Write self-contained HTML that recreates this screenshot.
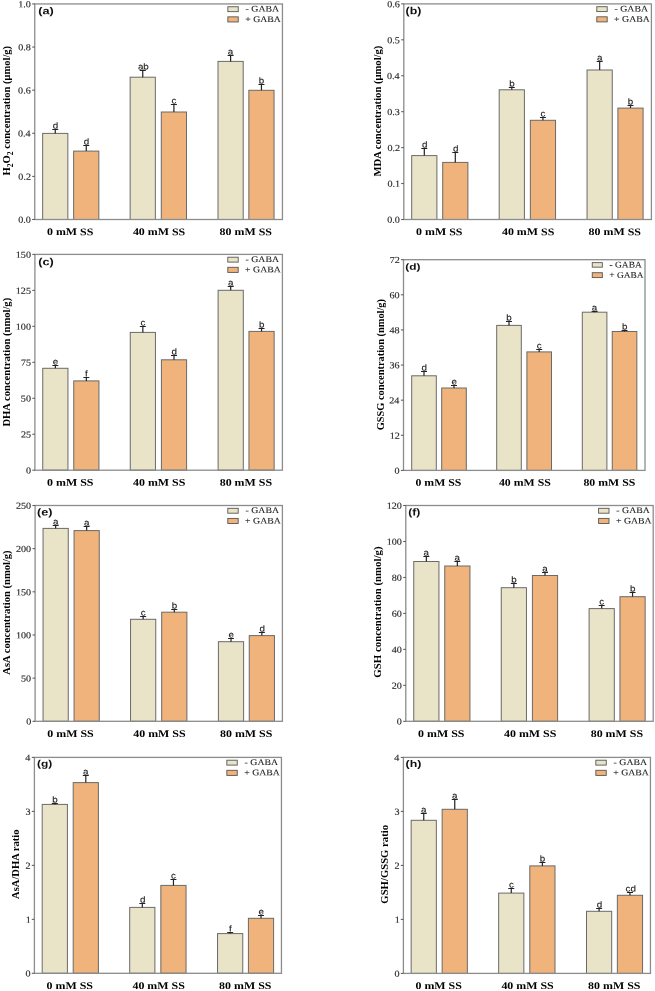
<!DOCTYPE html>
<html><head><meta charset="utf-8"><style>
html,body{margin:0;padding:0;background:#fff;}
svg{display:block;}
</style></head><body>
<svg width="655" height="991" viewBox="0 0 655 991">
<rect width="655" height="991" fill="#fff"/>
<g style="will-change:transform">
<rect x="42.65" y="133.40" width="25.20" height="86.10" fill="#e9e4c8" stroke="#6a6a6a" stroke-width="1"/>
<rect x="73.65" y="151.10" width="25.20" height="68.40" fill="#efb37b" stroke="#6a6a6a" stroke-width="1"/>
<rect x="130.15" y="77.20" width="25.20" height="142.30" fill="#e9e4c8" stroke="#6a6a6a" stroke-width="1"/>
<rect x="161.30" y="112.00" width="25.20" height="107.50" fill="#efb37b" stroke="#6a6a6a" stroke-width="1"/>
<rect x="218.00" y="61.40" width="25.20" height="158.10" fill="#e9e4c8" stroke="#6a6a6a" stroke-width="1"/>
<rect x="248.85" y="90.30" width="25.20" height="129.20" fill="#efb37b" stroke="#6a6a6a" stroke-width="1"/>
<path d="M55.25 133.40V129.50M52.25 129.50H58.25" stroke="#222" stroke-width="1.2" fill="none"/>
<path d="M86.25 151.10V145.50M83.25 145.50H89.25" stroke="#222" stroke-width="1.2" fill="none"/>
<path d="M142.75 77.20V70.50M139.75 70.50H145.75" stroke="#222" stroke-width="1.2" fill="none"/>
<path d="M173.90 112.00V104.50M170.90 104.50H176.90" stroke="#222" stroke-width="1.2" fill="none"/>
<path d="M230.60 61.40V55.50M227.60 55.50H233.60" stroke="#222" stroke-width="1.2" fill="none"/>
<path d="M261.45 90.30V84.50M258.45 84.50H264.45" stroke="#222" stroke-width="1.2" fill="none"/>
<text transform="matrix(1.1300 0.001 0 1 52.83 128.40)" font-family='"Liberation Sans", sans-serif' font-weight="normal" font-size="8.70" fill="#222" stroke="#222" stroke-width="0.12">d</text>
<text transform="matrix(1.1300 0.001 0 1 83.83 144.40)" font-family='"Liberation Sans", sans-serif' font-weight="normal" font-size="8.70" fill="#222" stroke="#222" stroke-width="0.12">d</text>
<text transform="matrix(1.1300 0.001 0 1 137.88 69.40)" font-family='"Liberation Sans", sans-serif' font-weight="normal" font-size="8.70" fill="#222" stroke="#222" stroke-width="0.12">ab</text>
<text transform="matrix(1.1300 0.001 0 1 171.56 103.40)" font-family='"Liberation Sans", sans-serif' font-weight="normal" font-size="8.70" fill="#222" stroke="#222" stroke-width="0.12">c</text>
<text transform="matrix(1.1300 0.001 0 1 227.86 54.40)" font-family='"Liberation Sans", sans-serif' font-weight="normal" font-size="8.70" fill="#222" stroke="#222" stroke-width="0.12">a</text>
<text transform="matrix(1.1300 0.001 0 1 258.81 83.40)" font-family='"Liberation Sans", sans-serif' font-weight="normal" font-size="8.70" fill="#222" stroke="#222" stroke-width="0.12">b</text>
<rect x="34.75" y="3.95" width="247.70" height="215.55" fill="none" stroke="#8c8c8c" stroke-width="1.3"/>
<path d="M32.15 219.50H34.75" stroke="#555" stroke-width="1"/>
<text transform="matrix(1.1000 0.001 0 1 18.19 222.79)" font-family='"Liberation Serif", serif' font-weight="normal" font-size="9.20" fill="#2a2a2a" stroke="#2a2a2a" stroke-width="0.15">0.0</text>
<path d="M32.15 176.39H34.75" stroke="#555" stroke-width="1"/>
<text transform="matrix(1.1000 0.001 0 1 18.36 179.68)" font-family='"Liberation Serif", serif' font-weight="normal" font-size="9.20" fill="#2a2a2a" stroke="#2a2a2a" stroke-width="0.15">0.2</text>
<path d="M32.15 133.28H34.75" stroke="#555" stroke-width="1"/>
<text transform="matrix(1.1000 0.001 0 1 17.96 136.57)" font-family='"Liberation Serif", serif' font-weight="normal" font-size="9.20" fill="#2a2a2a" stroke="#2a2a2a" stroke-width="0.15">0.4</text>
<path d="M32.15 90.17H34.75" stroke="#555" stroke-width="1"/>
<text transform="matrix(1.1000 0.001 0 1 18.10 93.46)" font-family='"Liberation Serif", serif' font-weight="normal" font-size="9.20" fill="#2a2a2a" stroke="#2a2a2a" stroke-width="0.15">0.6</text>
<path d="M32.15 47.06H34.75" stroke="#555" stroke-width="1"/>
<text transform="matrix(1.1000 0.001 0 1 18.19 50.35)" font-family='"Liberation Serif", serif' font-weight="normal" font-size="9.20" fill="#2a2a2a" stroke="#2a2a2a" stroke-width="0.15">0.8</text>
<path d="M32.15 3.95H34.75" stroke="#555" stroke-width="1"/>
<text transform="matrix(1.1000 0.001 0 1 18.19 7.24)" font-family='"Liberation Serif", serif' font-weight="normal" font-size="9.20" fill="#2a2a2a" stroke="#2a2a2a" stroke-width="0.15">1.0</text>
<text transform="matrix(1.2739 0.001 0 1.0084 38.22 14.36)" font-family='"Liberation Sans", sans-serif' font-weight="bold" font-size="10" fill="#111">(a)</text>
<rect x="227.85" y="6.75" width="10.40" height="4.90" fill="#e9e4c8" stroke="#555" stroke-width="0.9"/>
<rect x="227.85" y="16.85" width="10.40" height="5.10" fill="#efb37b" stroke="#555" stroke-width="0.9"/>
<text transform="matrix(0.9816 0.001 0 0.8484 245.59 11.52)" font-family='"Liberation Serif", serif' font-weight="normal" font-size="10" fill="#1a1a1a" stroke="#1a1a1a" stroke-width="0.12">- GABA</text>
<text transform="matrix(0.9804 0.001 0 0.8484 245.16 21.87)" font-family='"Liberation Serif", serif' font-weight="normal" font-size="10" fill="#1a1a1a" stroke="#1a1a1a" stroke-width="0.12">+ GABA</text>
<text transform="matrix(1.1700 0.001 0 1 46.97 235.10)" font-family='"Liberation Serif", serif' font-weight="bold" font-size="10.20" fill="#000">0 mM SS</text>
<text transform="matrix(1.1700 0.001 0 1 132.88 235.10)" font-family='"Liberation Serif", serif' font-weight="bold" font-size="10.20" fill="#000">40 mM SS</text>
<text transform="matrix(1.1700 0.001 0 1 219.57 235.10)" font-family='"Liberation Serif", serif' font-weight="bold" font-size="10.20" fill="#000">80 mM SS</text>
<text transform="translate(9.72 175.43) rotate(-90) scale(1.0553 1.0900)" font-family='"Liberation Serif", serif' font-weight="bold" font-size="10.00" fill="#000">H<tspan font-size="7.20" dy="2.8">2</tspan><tspan dy="-2.8">O</tspan><tspan font-size="7.20" dy="2.8">2</tspan><tspan dy="-2.8"> concentration (μmol/g)</tspan></text>
<rect x="411.70" y="155.60" width="25.20" height="63.90" fill="#e9e4c8" stroke="#6a6a6a" stroke-width="1"/>
<rect x="442.70" y="162.40" width="25.20" height="57.10" fill="#efb37b" stroke="#6a6a6a" stroke-width="1"/>
<rect x="499.20" y="89.80" width="25.20" height="129.70" fill="#e9e4c8" stroke="#6a6a6a" stroke-width="1"/>
<rect x="530.35" y="120.30" width="25.20" height="99.20" fill="#efb37b" stroke="#6a6a6a" stroke-width="1"/>
<rect x="587.05" y="70.00" width="25.20" height="149.50" fill="#e9e4c8" stroke="#6a6a6a" stroke-width="1"/>
<rect x="617.90" y="108.10" width="25.20" height="111.40" fill="#efb37b" stroke="#6a6a6a" stroke-width="1"/>
<path d="M424.30 155.60V148.50M421.30 148.50H427.30" stroke="#222" stroke-width="1.2" fill="none"/>
<path d="M455.30 162.40V152.50M452.30 152.50H458.30" stroke="#222" stroke-width="1.2" fill="none"/>
<path d="M511.80 89.80V87.50M508.80 87.50H514.80" stroke="#222" stroke-width="1.2" fill="none"/>
<path d="M542.95 120.30V117.50M539.95 117.50H545.95" stroke="#222" stroke-width="1.2" fill="none"/>
<path d="M599.65 70.00V61.50M596.65 61.50H602.65" stroke="#222" stroke-width="1.2" fill="none"/>
<path d="M630.50 108.10V105.50M627.50 105.50H633.50" stroke="#222" stroke-width="1.2" fill="none"/>
<text transform="matrix(1.1300 0.001 0 1 421.88 147.40)" font-family='"Liberation Sans", sans-serif' font-weight="normal" font-size="8.70" fill="#222" stroke="#222" stroke-width="0.12">d</text>
<text transform="matrix(1.1300 0.001 0 1 452.88 151.40)" font-family='"Liberation Sans", sans-serif' font-weight="normal" font-size="8.70" fill="#222" stroke="#222" stroke-width="0.12">d</text>
<text transform="matrix(1.1300 0.001 0 1 509.16 86.40)" font-family='"Liberation Sans", sans-serif' font-weight="normal" font-size="8.70" fill="#222" stroke="#222" stroke-width="0.12">b</text>
<text transform="matrix(1.1300 0.001 0 1 540.61 116.40)" font-family='"Liberation Sans", sans-serif' font-weight="normal" font-size="8.70" fill="#222" stroke="#222" stroke-width="0.12">c</text>
<text transform="matrix(1.1300 0.001 0 1 596.91 60.40)" font-family='"Liberation Sans", sans-serif' font-weight="normal" font-size="8.70" fill="#222" stroke="#222" stroke-width="0.12">a</text>
<text transform="matrix(1.1300 0.001 0 1 627.86 104.40)" font-family='"Liberation Sans", sans-serif' font-weight="normal" font-size="8.70" fill="#222" stroke="#222" stroke-width="0.12">b</text>
<rect x="403.80" y="3.90" width="247.60" height="215.60" fill="none" stroke="#8c8c8c" stroke-width="1.3"/>
<path d="M401.20 219.50H403.80" stroke="#555" stroke-width="1"/>
<text transform="matrix(1.1000 0.001 0 1 387.24 222.79)" font-family='"Liberation Serif", serif' font-weight="normal" font-size="9.20" fill="#2a2a2a" stroke="#2a2a2a" stroke-width="0.15">0.0</text>
<path d="M401.20 183.57H403.80" stroke="#555" stroke-width="1"/>
<text transform="matrix(1.1000 0.001 0 1 387.46 186.86)" font-family='"Liberation Serif", serif' font-weight="normal" font-size="9.20" fill="#2a2a2a" stroke="#2a2a2a" stroke-width="0.15">0.1</text>
<path d="M401.20 147.63H403.80" stroke="#555" stroke-width="1"/>
<text transform="matrix(1.1000 0.001 0 1 387.41 150.93)" font-family='"Liberation Serif", serif' font-weight="normal" font-size="9.20" fill="#2a2a2a" stroke="#2a2a2a" stroke-width="0.15">0.2</text>
<path d="M401.20 111.70H403.80" stroke="#555" stroke-width="1"/>
<text transform="matrix(1.1000 0.001 0 1 387.25 114.99)" font-family='"Liberation Serif", serif' font-weight="normal" font-size="9.20" fill="#2a2a2a" stroke="#2a2a2a" stroke-width="0.15">0.3</text>
<path d="M401.20 75.77H403.80" stroke="#555" stroke-width="1"/>
<text transform="matrix(1.1000 0.001 0 1 387.01 79.06)" font-family='"Liberation Serif", serif' font-weight="normal" font-size="9.20" fill="#2a2a2a" stroke="#2a2a2a" stroke-width="0.15">0.4</text>
<path d="M401.20 39.83H403.80" stroke="#555" stroke-width="1"/>
<text transform="matrix(1.1000 0.001 0 1 387.25 43.13)" font-family='"Liberation Serif", serif' font-weight="normal" font-size="9.20" fill="#2a2a2a" stroke="#2a2a2a" stroke-width="0.15">0.5</text>
<path d="M401.20 3.90H403.80" stroke="#555" stroke-width="1"/>
<text transform="matrix(1.1000 0.001 0 1 387.15 7.19)" font-family='"Liberation Serif", serif' font-weight="normal" font-size="9.20" fill="#2a2a2a" stroke="#2a2a2a" stroke-width="0.15">0.6</text>
<text transform="matrix(1.2402 0.001 0 1.0406 405.53 14.29)" font-family='"Liberation Sans", sans-serif' font-weight="bold" font-size="10" fill="#111">(b)</text>
<rect x="596.80" y="6.70" width="10.40" height="4.90" fill="#e9e4c8" stroke="#555" stroke-width="0.9"/>
<rect x="596.80" y="16.80" width="10.40" height="5.10" fill="#efb37b" stroke="#555" stroke-width="0.9"/>
<text transform="matrix(0.9816 0.001 0 0.8484 614.54 11.47)" font-family='"Liberation Serif", serif' font-weight="normal" font-size="10" fill="#1a1a1a" stroke="#1a1a1a" stroke-width="0.12">- GABA</text>
<text transform="matrix(0.9804 0.001 0 0.8484 614.11 21.82)" font-family='"Liberation Serif", serif' font-weight="normal" font-size="10" fill="#1a1a1a" stroke="#1a1a1a" stroke-width="0.12">+ GABA</text>
<text transform="matrix(1.1700 0.001 0 1 416.02 235.10)" font-family='"Liberation Serif", serif' font-weight="bold" font-size="10.20" fill="#000">0 mM SS</text>
<text transform="matrix(1.1700 0.001 0 1 501.93 235.10)" font-family='"Liberation Serif", serif' font-weight="bold" font-size="10.20" fill="#000">40 mM SS</text>
<text transform="matrix(1.1700 0.001 0 1 588.62 235.10)" font-family='"Liberation Serif", serif' font-weight="bold" font-size="10.20" fill="#000">80 mM SS</text>
<text transform="translate(380.88 176.53) rotate(-90) scale(1.0611 1.0900)" font-family='"Liberation Serif", serif' font-weight="bold" font-size="10.00" fill="#000">MDA concentration (μmol/g)</text>
<rect x="42.75" y="368.30" width="25.20" height="101.90" fill="#e9e4c8" stroke="#6a6a6a" stroke-width="1"/>
<rect x="73.75" y="380.90" width="25.20" height="89.30" fill="#efb37b" stroke="#6a6a6a" stroke-width="1"/>
<rect x="130.25" y="332.40" width="25.20" height="137.80" fill="#e9e4c8" stroke="#6a6a6a" stroke-width="1"/>
<rect x="161.40" y="359.80" width="25.20" height="110.40" fill="#efb37b" stroke="#6a6a6a" stroke-width="1"/>
<rect x="218.10" y="290.30" width="25.20" height="179.90" fill="#e9e4c8" stroke="#6a6a6a" stroke-width="1"/>
<rect x="248.95" y="331.40" width="25.20" height="138.80" fill="#efb37b" stroke="#6a6a6a" stroke-width="1"/>
<path d="M55.35 368.30V365.50M52.35 365.50H58.35" stroke="#222" stroke-width="1.2" fill="none"/>
<path d="M86.35 380.90V377.50M83.35 377.50H89.35" stroke="#222" stroke-width="1.2" fill="none"/>
<path d="M142.85 332.40V326.50M139.85 326.50H145.85" stroke="#222" stroke-width="1.2" fill="none"/>
<path d="M174.00 359.80V355.50M171.00 355.50H177.00" stroke="#222" stroke-width="1.2" fill="none"/>
<path d="M230.70 290.30V286.50M227.70 286.50H233.70" stroke="#222" stroke-width="1.2" fill="none"/>
<path d="M261.55 331.40V328.50M258.55 328.50H264.55" stroke="#222" stroke-width="1.2" fill="none"/>
<text transform="matrix(1.1300 0.001 0 1 52.83 364.40)" font-family='"Liberation Sans", sans-serif' font-weight="normal" font-size="8.70" fill="#222" stroke="#222" stroke-width="0.12">e</text>
<text transform="matrix(1.1300 0.001 0 1 85.11 376.40)" font-family='"Liberation Sans", sans-serif' font-weight="normal" font-size="8.70" fill="#222" stroke="#222" stroke-width="0.12">f</text>
<text transform="matrix(1.1300 0.001 0 1 140.51 325.40)" font-family='"Liberation Sans", sans-serif' font-weight="normal" font-size="8.70" fill="#222" stroke="#222" stroke-width="0.12">c</text>
<text transform="matrix(1.1300 0.001 0 1 171.58 354.40)" font-family='"Liberation Sans", sans-serif' font-weight="normal" font-size="8.70" fill="#222" stroke="#222" stroke-width="0.12">d</text>
<text transform="matrix(1.1300 0.001 0 1 227.96 285.40)" font-family='"Liberation Sans", sans-serif' font-weight="normal" font-size="8.70" fill="#222" stroke="#222" stroke-width="0.12">a</text>
<text transform="matrix(1.1300 0.001 0 1 258.91 327.40)" font-family='"Liberation Sans", sans-serif' font-weight="normal" font-size="8.70" fill="#222" stroke="#222" stroke-width="0.12">b</text>
<rect x="34.90" y="254.40" width="247.50" height="215.80" fill="none" stroke="#8c8c8c" stroke-width="1.3"/>
<path d="M32.30 470.20H34.90" stroke="#555" stroke-width="1"/>
<text transform="matrix(1.1000 0.001 0 1 25.93 473.51)" font-family='"Liberation Serif", serif' font-weight="normal" font-size="9.20" fill="#2a2a2a" stroke="#2a2a2a" stroke-width="0.15">0</text>
<path d="M32.30 434.23H34.90" stroke="#555" stroke-width="1"/>
<text transform="matrix(1.1000 0.001 0 1 20.88 437.53)" font-family='"Liberation Serif", serif' font-weight="normal" font-size="9.20" fill="#2a2a2a" stroke="#2a2a2a" stroke-width="0.15">25</text>
<path d="M32.30 398.27H34.90" stroke="#555" stroke-width="1"/>
<text transform="matrix(1.1000 0.001 0 1 20.87 401.58)" font-family='"Liberation Serif", serif' font-weight="normal" font-size="9.20" fill="#2a2a2a" stroke="#2a2a2a" stroke-width="0.15">50</text>
<path d="M32.30 362.30H34.90" stroke="#555" stroke-width="1"/>
<text transform="matrix(1.1000 0.001 0 1 20.88 365.57)" font-family='"Liberation Serif", serif' font-weight="normal" font-size="9.20" fill="#2a2a2a" stroke="#2a2a2a" stroke-width="0.15">75</text>
<path d="M32.30 326.33H34.90" stroke="#555" stroke-width="1"/>
<text transform="matrix(1.1000 0.001 0 1 15.81 329.65)" font-family='"Liberation Serif", serif' font-weight="normal" font-size="9.20" fill="#2a2a2a" stroke="#2a2a2a" stroke-width="0.15">100</text>
<path d="M32.30 290.37H34.90" stroke="#555" stroke-width="1"/>
<text transform="matrix(1.1000 0.001 0 1 15.82 293.67)" font-family='"Liberation Serif", serif' font-weight="normal" font-size="9.20" fill="#2a2a2a" stroke="#2a2a2a" stroke-width="0.15">125</text>
<path d="M32.30 254.40H34.90" stroke="#555" stroke-width="1"/>
<text transform="matrix(1.1000 0.001 0 1 15.81 257.71)" font-family='"Liberation Serif", serif' font-weight="normal" font-size="9.20" fill="#2a2a2a" stroke="#2a2a2a" stroke-width="0.15">150</text>
<text transform="matrix(1.2739 0.001 0 1.0406 38.22 265.19)" font-family='"Liberation Sans", sans-serif' font-weight="bold" font-size="10" fill="#111">(c)</text>
<rect x="227.80" y="257.20" width="10.40" height="4.90" fill="#e9e4c8" stroke="#555" stroke-width="0.9"/>
<rect x="227.80" y="267.30" width="10.40" height="5.10" fill="#efb37b" stroke="#555" stroke-width="0.9"/>
<text transform="matrix(0.9816 0.001 0 0.8484 245.54 261.97)" font-family='"Liberation Serif", serif' font-weight="normal" font-size="10" fill="#1a1a1a" stroke="#1a1a1a" stroke-width="0.12">- GABA</text>
<text transform="matrix(0.9804 0.001 0 0.8484 245.11 272.32)" font-family='"Liberation Serif", serif' font-weight="normal" font-size="10" fill="#1a1a1a" stroke="#1a1a1a" stroke-width="0.12">+ GABA</text>
<text transform="matrix(1.1700 0.001 0 1 47.07 485.80)" font-family='"Liberation Serif", serif' font-weight="bold" font-size="10.20" fill="#000">0 mM SS</text>
<text transform="matrix(1.1700 0.001 0 1 132.98 485.80)" font-family='"Liberation Serif", serif' font-weight="bold" font-size="10.20" fill="#000">40 mM SS</text>
<text transform="matrix(1.1700 0.001 0 1 219.67 485.80)" font-family='"Liberation Serif", serif' font-weight="bold" font-size="10.20" fill="#000">80 mM SS</text>
<text transform="translate(10.33 426.54) rotate(-90) scale(1.0593 1.0900)" font-family='"Liberation Serif", serif' font-weight="bold" font-size="10.00" fill="#000">DHA concentration (nmol/g)</text>
<rect x="411.70" y="375.80" width="24.60" height="94.60" fill="#e9e4c8" stroke="#6a6a6a" stroke-width="1"/>
<rect x="441.70" y="388.00" width="24.60" height="82.40" fill="#efb37b" stroke="#6a6a6a" stroke-width="1"/>
<rect x="496.70" y="325.40" width="24.60" height="145.00" fill="#e9e4c8" stroke="#6a6a6a" stroke-width="1"/>
<rect x="526.90" y="351.90" width="24.60" height="118.50" fill="#efb37b" stroke="#6a6a6a" stroke-width="1"/>
<rect x="582.30" y="312.20" width="24.60" height="158.20" fill="#e9e4c8" stroke="#6a6a6a" stroke-width="1"/>
<rect x="612.25" y="331.50" width="24.60" height="138.90" fill="#efb37b" stroke="#6a6a6a" stroke-width="1"/>
<path d="M424.00 375.80V371.50M421.00 371.50H427.00" stroke="#222" stroke-width="1.2" fill="none"/>
<path d="M454.00 388.00V385.50M451.00 385.50H457.00" stroke="#222" stroke-width="1.2" fill="none"/>
<path d="M509.00 325.40V321.50M506.00 321.50H512.00" stroke="#222" stroke-width="1.2" fill="none"/>
<path d="M539.20 351.90V349.50M536.20 349.50H542.20" stroke="#222" stroke-width="1.2" fill="none"/>
<path d="M594.60 312.20V311.50M591.60 311.50H597.60" stroke="#222" stroke-width="1.2" fill="none"/>
<path d="M624.55 331.50V330.50M621.55 330.50H627.55" stroke="#222" stroke-width="1.2" fill="none"/>
<text transform="matrix(1.1300 0.001 0 1 421.58 370.40)" font-family='"Liberation Sans", sans-serif' font-weight="normal" font-size="8.70" fill="#222" stroke="#222" stroke-width="0.12">d</text>
<text transform="matrix(1.1300 0.001 0 1 451.48 384.40)" font-family='"Liberation Sans", sans-serif' font-weight="normal" font-size="8.70" fill="#222" stroke="#222" stroke-width="0.12">e</text>
<text transform="matrix(1.1300 0.001 0 1 506.36 320.40)" font-family='"Liberation Sans", sans-serif' font-weight="normal" font-size="8.70" fill="#222" stroke="#222" stroke-width="0.12">b</text>
<text transform="matrix(1.1300 0.001 0 1 536.86 348.40)" font-family='"Liberation Sans", sans-serif' font-weight="normal" font-size="8.70" fill="#222" stroke="#222" stroke-width="0.12">c</text>
<text transform="matrix(1.1300 0.001 0 1 591.86 310.40)" font-family='"Liberation Sans", sans-serif' font-weight="normal" font-size="8.70" fill="#222" stroke="#222" stroke-width="0.12">a</text>
<text transform="matrix(1.1300 0.001 0 1 621.91 329.40)" font-family='"Liberation Sans", sans-serif' font-weight="normal" font-size="8.70" fill="#222" stroke="#222" stroke-width="0.12">b</text>
<rect x="403.50" y="259.70" width="241.50" height="210.70" fill="none" stroke="#8c8c8c" stroke-width="1.3"/>
<path d="M400.90 470.40H403.50" stroke="#555" stroke-width="1"/>
<text transform="matrix(1.1000 0.001 0 1 394.53 473.71)" font-family='"Liberation Serif", serif' font-weight="normal" font-size="9.20" fill="#2a2a2a" stroke="#2a2a2a" stroke-width="0.15">0</text>
<path d="M400.90 435.28H403.50" stroke="#555" stroke-width="1"/>
<text transform="matrix(1.1000 0.001 0 1 389.64 438.63)" font-family='"Liberation Serif", serif' font-weight="normal" font-size="9.20" fill="#2a2a2a" stroke="#2a2a2a" stroke-width="0.15">12</text>
<path d="M400.90 400.17H403.50" stroke="#555" stroke-width="1"/>
<text transform="matrix(1.1000 0.001 0 1 389.24 403.51)" font-family='"Liberation Serif", serif' font-weight="normal" font-size="9.20" fill="#2a2a2a" stroke="#2a2a2a" stroke-width="0.15">24</text>
<path d="M400.90 365.05H403.50" stroke="#555" stroke-width="1"/>
<text transform="matrix(1.1000 0.001 0 1 389.38 368.35)" font-family='"Liberation Serif", serif' font-weight="normal" font-size="9.20" fill="#2a2a2a" stroke="#2a2a2a" stroke-width="0.15">36</text>
<path d="M400.90 329.93H403.50" stroke="#555" stroke-width="1"/>
<text transform="matrix(1.1000 0.001 0 1 389.47 333.25)" font-family='"Liberation Serif", serif' font-weight="normal" font-size="9.20" fill="#2a2a2a" stroke="#2a2a2a" stroke-width="0.15">48</text>
<path d="M400.90 294.82H403.50" stroke="#555" stroke-width="1"/>
<text transform="matrix(1.1000 0.001 0 1 389.47 298.13)" font-family='"Liberation Serif", serif' font-weight="normal" font-size="9.20" fill="#2a2a2a" stroke="#2a2a2a" stroke-width="0.15">60</text>
<path d="M400.90 259.70H403.50" stroke="#555" stroke-width="1"/>
<text transform="matrix(1.1000 0.001 0 1 389.64 263.05)" font-family='"Liberation Serif", serif' font-weight="normal" font-size="9.20" fill="#2a2a2a" stroke="#2a2a2a" stroke-width="0.15">72</text>
<text transform="matrix(1.1892 0.001 0 0.9012 405.36 269.78)" font-family='"Liberation Sans", sans-serif' font-weight="bold" font-size="10" fill="#111">(d)</text>
<rect x="592.25" y="262.65" width="10.10" height="4.50" fill="#e9e4c8" stroke="#555" stroke-width="0.9"/>
<rect x="592.25" y="272.70" width="10.10" height="4.90" fill="#efb37b" stroke="#555" stroke-width="0.9"/>
<text transform="matrix(0.9460 0.001 0 0.8781 609.55 267.51)" font-family='"Liberation Serif", serif' font-weight="normal" font-size="10" fill="#1a1a1a" stroke="#1a1a1a" stroke-width="0.12">- GABA</text>
<text transform="matrix(0.9414 0.001 0 0.8335 609.23 277.62)" font-family='"Liberation Serif", serif' font-weight="normal" font-size="10" fill="#1a1a1a" stroke="#1a1a1a" stroke-width="0.12">+ GABA</text>
<text transform="matrix(1.1700 0.001 0 1 415.45 485.70)" font-family='"Liberation Serif", serif' font-weight="bold" font-size="10.10" fill="#000">0 mM SS</text>
<text transform="matrix(1.1700 0.001 0 1 498.94 485.70)" font-family='"Liberation Serif", serif' font-weight="bold" font-size="10.10" fill="#000">40 mM SS</text>
<text transform="matrix(1.1700 0.001 0 1 583.43 485.70)" font-family='"Liberation Serif", serif' font-weight="bold" font-size="10.10" fill="#000">80 mM SS</text>
<text transform="translate(384.03 430.26) rotate(-90) scale(1.0379 1.0900)" font-family='"Liberation Serif", serif' font-weight="bold" font-size="10.00" fill="#000">GSSG concentration (nmol/g)</text>
<rect x="43.05" y="528.40" width="25.20" height="192.90" fill="#e9e4c8" stroke="#6a6a6a" stroke-width="1"/>
<rect x="74.05" y="530.60" width="25.20" height="190.70" fill="#efb37b" stroke="#6a6a6a" stroke-width="1"/>
<rect x="130.55" y="619.30" width="25.20" height="102.00" fill="#e9e4c8" stroke="#6a6a6a" stroke-width="1"/>
<rect x="161.70" y="612.20" width="25.20" height="109.10" fill="#efb37b" stroke="#6a6a6a" stroke-width="1"/>
<rect x="218.40" y="641.70" width="25.20" height="79.60" fill="#e9e4c8" stroke="#6a6a6a" stroke-width="1"/>
<rect x="249.25" y="635.60" width="25.20" height="85.70" fill="#efb37b" stroke="#6a6a6a" stroke-width="1"/>
<path d="M55.65 528.40V525.50M52.65 525.50H58.65" stroke="#222" stroke-width="1.2" fill="none"/>
<path d="M86.65 530.60V526.50M83.65 526.50H89.65" stroke="#222" stroke-width="1.2" fill="none"/>
<path d="M143.15 619.30V616.50M140.15 616.50H146.15" stroke="#222" stroke-width="1.2" fill="none"/>
<path d="M174.30 612.20V609.50M171.30 609.50H177.30" stroke="#222" stroke-width="1.2" fill="none"/>
<path d="M231.00 641.70V638.50M228.00 638.50H234.00" stroke="#222" stroke-width="1.2" fill="none"/>
<path d="M261.85 635.60V632.50M258.85 632.50H264.85" stroke="#222" stroke-width="1.2" fill="none"/>
<text transform="matrix(1.1300 0.001 0 1 52.91 524.40)" font-family='"Liberation Sans", sans-serif' font-weight="normal" font-size="8.70" fill="#222" stroke="#222" stroke-width="0.12">a</text>
<text transform="matrix(1.1300 0.001 0 1 83.91 525.40)" font-family='"Liberation Sans", sans-serif' font-weight="normal" font-size="8.70" fill="#222" stroke="#222" stroke-width="0.12">a</text>
<text transform="matrix(1.1300 0.001 0 1 140.81 615.40)" font-family='"Liberation Sans", sans-serif' font-weight="normal" font-size="8.70" fill="#222" stroke="#222" stroke-width="0.12">c</text>
<text transform="matrix(1.1300 0.001 0 1 171.66 608.40)" font-family='"Liberation Sans", sans-serif' font-weight="normal" font-size="8.70" fill="#222" stroke="#222" stroke-width="0.12">b</text>
<text transform="matrix(1.1300 0.001 0 1 228.48 637.40)" font-family='"Liberation Sans", sans-serif' font-weight="normal" font-size="8.70" fill="#222" stroke="#222" stroke-width="0.12">e</text>
<text transform="matrix(1.1300 0.001 0 1 259.43 631.40)" font-family='"Liberation Sans", sans-serif' font-weight="normal" font-size="8.70" fill="#222" stroke="#222" stroke-width="0.12">d</text>
<rect x="35.10" y="505.50" width="247.30" height="215.80" fill="none" stroke="#8c8c8c" stroke-width="1.3"/>
<path d="M32.50 721.30H35.10" stroke="#555" stroke-width="1"/>
<text transform="matrix(1.1000 0.001 0 1 26.13 724.61)" font-family='"Liberation Serif", serif' font-weight="normal" font-size="9.20" fill="#2a2a2a" stroke="#2a2a2a" stroke-width="0.15">0</text>
<path d="M32.50 678.14H35.10" stroke="#555" stroke-width="1"/>
<text transform="matrix(1.1000 0.001 0 1 21.07 681.45)" font-family='"Liberation Serif", serif' font-weight="normal" font-size="9.20" fill="#2a2a2a" stroke="#2a2a2a" stroke-width="0.15">50</text>
<path d="M32.50 634.98H35.10" stroke="#555" stroke-width="1"/>
<text transform="matrix(1.1000 0.001 0 1 16.01 638.29)" font-family='"Liberation Serif", serif' font-weight="normal" font-size="9.20" fill="#2a2a2a" stroke="#2a2a2a" stroke-width="0.15">100</text>
<path d="M32.50 591.82H35.10" stroke="#555" stroke-width="1"/>
<text transform="matrix(1.1000 0.001 0 1 16.01 595.13)" font-family='"Liberation Serif", serif' font-weight="normal" font-size="9.20" fill="#2a2a2a" stroke="#2a2a2a" stroke-width="0.15">150</text>
<path d="M32.50 548.66H35.10" stroke="#555" stroke-width="1"/>
<text transform="matrix(1.1000 0.001 0 1 16.01 551.97)" font-family='"Liberation Serif", serif' font-weight="normal" font-size="9.20" fill="#2a2a2a" stroke="#2a2a2a" stroke-width="0.15">200</text>
<path d="M32.50 505.50H35.10" stroke="#555" stroke-width="1"/>
<text transform="matrix(1.1000 0.001 0 1 16.01 508.81)" font-family='"Liberation Serif", serif' font-weight="normal" font-size="9.20" fill="#2a2a2a" stroke="#2a2a2a" stroke-width="0.15">250</text>
<text transform="matrix(1.2739 0.001 0 1.0084 37.02 515.46)" font-family='"Liberation Sans", sans-serif' font-weight="bold" font-size="10" fill="#111">(e)</text>
<rect x="227.80" y="508.30" width="10.40" height="4.90" fill="#e9e4c8" stroke="#555" stroke-width="0.9"/>
<rect x="227.80" y="518.40" width="10.40" height="5.10" fill="#efb37b" stroke="#555" stroke-width="0.9"/>
<text transform="matrix(0.9816 0.001 0 0.8484 245.54 513.07)" font-family='"Liberation Serif", serif' font-weight="normal" font-size="10" fill="#1a1a1a" stroke="#1a1a1a" stroke-width="0.12">- GABA</text>
<text transform="matrix(0.9804 0.001 0 0.8484 245.11 523.42)" font-family='"Liberation Serif", serif' font-weight="normal" font-size="10" fill="#1a1a1a" stroke="#1a1a1a" stroke-width="0.12">+ GABA</text>
<text transform="matrix(1.1700 0.001 0 1 47.37 736.90)" font-family='"Liberation Serif", serif' font-weight="bold" font-size="10.20" fill="#000">0 mM SS</text>
<text transform="matrix(1.1700 0.001 0 1 133.28 736.90)" font-family='"Liberation Serif", serif' font-weight="bold" font-size="10.20" fill="#000">40 mM SS</text>
<text transform="matrix(1.1700 0.001 0 1 219.97 736.90)" font-family='"Liberation Serif", serif' font-weight="bold" font-size="10.20" fill="#000">80 mM SS</text>
<text transform="translate(10.33 674.65) rotate(-90) scale(1.0570 1.0900)" font-family='"Liberation Serif", serif' font-weight="bold" font-size="10.00" fill="#000">AsA concentration (nmol/g)</text>
<rect x="413.75" y="561.50" width="25.20" height="159.80" fill="#e9e4c8" stroke="#6a6a6a" stroke-width="1"/>
<rect x="444.75" y="566.00" width="25.20" height="155.30" fill="#efb37b" stroke="#6a6a6a" stroke-width="1"/>
<rect x="501.25" y="587.70" width="25.20" height="133.60" fill="#e9e4c8" stroke="#6a6a6a" stroke-width="1"/>
<rect x="532.40" y="575.50" width="25.20" height="145.80" fill="#efb37b" stroke="#6a6a6a" stroke-width="1"/>
<rect x="589.10" y="608.60" width="25.20" height="112.70" fill="#e9e4c8" stroke="#6a6a6a" stroke-width="1"/>
<rect x="619.95" y="596.70" width="25.20" height="124.60" fill="#efb37b" stroke="#6a6a6a" stroke-width="1"/>
<path d="M426.35 561.50V556.50M423.35 556.50H429.35" stroke="#222" stroke-width="1.2" fill="none"/>
<path d="M457.35 566.00V561.50M454.35 561.50H460.35" stroke="#222" stroke-width="1.2" fill="none"/>
<path d="M513.85 587.70V583.50M510.85 583.50H516.85" stroke="#222" stroke-width="1.2" fill="none"/>
<path d="M545.00 575.50V572.50M542.00 572.50H548.00" stroke="#222" stroke-width="1.2" fill="none"/>
<path d="M601.70 608.60V605.50M598.70 605.50H604.70" stroke="#222" stroke-width="1.2" fill="none"/>
<path d="M632.55 596.70V592.50M629.55 592.50H635.55" stroke="#222" stroke-width="1.2" fill="none"/>
<text transform="matrix(1.1300 0.001 0 1 423.61 555.40)" font-family='"Liberation Sans", sans-serif' font-weight="normal" font-size="8.70" fill="#222" stroke="#222" stroke-width="0.12">a</text>
<text transform="matrix(1.1300 0.001 0 1 454.61 560.40)" font-family='"Liberation Sans", sans-serif' font-weight="normal" font-size="8.70" fill="#222" stroke="#222" stroke-width="0.12">a</text>
<text transform="matrix(1.1300 0.001 0 1 511.21 582.40)" font-family='"Liberation Sans", sans-serif' font-weight="normal" font-size="8.70" fill="#222" stroke="#222" stroke-width="0.12">b</text>
<text transform="matrix(1.1300 0.001 0 1 542.26 571.40)" font-family='"Liberation Sans", sans-serif' font-weight="normal" font-size="8.70" fill="#222" stroke="#222" stroke-width="0.12">a</text>
<text transform="matrix(1.1300 0.001 0 1 599.36 604.40)" font-family='"Liberation Sans", sans-serif' font-weight="normal" font-size="8.70" fill="#222" stroke="#222" stroke-width="0.12">c</text>
<text transform="matrix(1.1300 0.001 0 1 629.91 591.40)" font-family='"Liberation Sans", sans-serif' font-weight="normal" font-size="8.70" fill="#222" stroke="#222" stroke-width="0.12">b</text>
<rect x="405.80" y="505.50" width="247.40" height="215.80" fill="none" stroke="#8c8c8c" stroke-width="1.3"/>
<path d="M403.20 721.30H405.80" stroke="#555" stroke-width="1"/>
<text transform="matrix(1.1000 0.001 0 1 396.83 724.61)" font-family='"Liberation Serif", serif' font-weight="normal" font-size="9.20" fill="#2a2a2a" stroke="#2a2a2a" stroke-width="0.15">0</text>
<path d="M403.20 685.33H405.80" stroke="#555" stroke-width="1"/>
<text transform="matrix(1.1000 0.001 0 1 391.77 688.65)" font-family='"Liberation Serif", serif' font-weight="normal" font-size="9.20" fill="#2a2a2a" stroke="#2a2a2a" stroke-width="0.15">20</text>
<path d="M403.20 649.37H405.80" stroke="#555" stroke-width="1"/>
<text transform="matrix(1.1000 0.001 0 1 391.77 652.68)" font-family='"Liberation Serif", serif' font-weight="normal" font-size="9.20" fill="#2a2a2a" stroke="#2a2a2a" stroke-width="0.15">40</text>
<path d="M403.20 613.40H405.80" stroke="#555" stroke-width="1"/>
<text transform="matrix(1.1000 0.001 0 1 391.77 616.71)" font-family='"Liberation Serif", serif' font-weight="normal" font-size="9.20" fill="#2a2a2a" stroke="#2a2a2a" stroke-width="0.15">60</text>
<path d="M403.20 577.43H405.80" stroke="#555" stroke-width="1"/>
<text transform="matrix(1.1000 0.001 0 1 391.77 580.75)" font-family='"Liberation Serif", serif' font-weight="normal" font-size="9.20" fill="#2a2a2a" stroke="#2a2a2a" stroke-width="0.15">80</text>
<path d="M403.20 541.47H405.80" stroke="#555" stroke-width="1"/>
<text transform="matrix(1.1000 0.001 0 1 386.71 544.78)" font-family='"Liberation Serif", serif' font-weight="normal" font-size="9.20" fill="#2a2a2a" stroke="#2a2a2a" stroke-width="0.15">100</text>
<path d="M403.20 505.50H405.80" stroke="#555" stroke-width="1"/>
<text transform="matrix(1.1000 0.001 0 1 386.71 508.81)" font-family='"Liberation Serif", serif' font-weight="normal" font-size="9.20" fill="#2a2a2a" stroke="#2a2a2a" stroke-width="0.15">120</text>
<text transform="matrix(1.2230 0.001 0 1.0084 408.24 515.46)" font-family='"Liberation Sans", sans-serif' font-weight="bold" font-size="10" fill="#111">(f)</text>
<rect x="598.60" y="508.30" width="10.40" height="4.90" fill="#e9e4c8" stroke="#555" stroke-width="0.9"/>
<rect x="598.60" y="518.40" width="10.40" height="5.10" fill="#efb37b" stroke="#555" stroke-width="0.9"/>
<text transform="matrix(0.9816 0.001 0 0.8484 616.34 513.07)" font-family='"Liberation Serif", serif' font-weight="normal" font-size="10" fill="#1a1a1a" stroke="#1a1a1a" stroke-width="0.12">- GABA</text>
<text transform="matrix(0.9804 0.001 0 0.8484 615.91 523.42)" font-family='"Liberation Serif", serif' font-weight="normal" font-size="10" fill="#1a1a1a" stroke="#1a1a1a" stroke-width="0.12">+ GABA</text>
<text transform="matrix(1.1700 0.001 0 1 418.07 736.90)" font-family='"Liberation Serif", serif' font-weight="bold" font-size="10.20" fill="#000">0 mM SS</text>
<text transform="matrix(1.1700 0.001 0 1 503.98 736.90)" font-family='"Liberation Serif", serif' font-weight="bold" font-size="10.20" fill="#000">40 mM SS</text>
<text transform="matrix(1.1700 0.001 0 1 590.67 736.90)" font-family='"Liberation Serif", serif' font-weight="bold" font-size="10.20" fill="#000">80 mM SS</text>
<text transform="translate(381.28 677.68) rotate(-90) scale(1.0859 1.0900)" font-family='"Liberation Serif", serif' font-weight="bold" font-size="10.00" fill="#000">GSH concentration (nmol/g)</text>
<rect x="42.20" y="804.40" width="25.20" height="168.90" fill="#e9e4c8" stroke="#6a6a6a" stroke-width="1"/>
<rect x="73.20" y="782.60" width="25.20" height="190.70" fill="#efb37b" stroke="#6a6a6a" stroke-width="1"/>
<rect x="129.70" y="907.40" width="25.20" height="65.90" fill="#e9e4c8" stroke="#6a6a6a" stroke-width="1"/>
<rect x="160.85" y="885.40" width="25.20" height="87.90" fill="#efb37b" stroke="#6a6a6a" stroke-width="1"/>
<rect x="217.55" y="933.60" width="25.20" height="39.70" fill="#e9e4c8" stroke="#6a6a6a" stroke-width="1"/>
<rect x="248.40" y="918.30" width="25.20" height="55.00" fill="#efb37b" stroke="#6a6a6a" stroke-width="1"/>
<path d="M54.80 804.40V803.50M51.80 803.50H57.80" stroke="#222" stroke-width="1.2" fill="none"/>
<path d="M85.80 782.60V775.50M82.80 775.50H88.80" stroke="#222" stroke-width="1.2" fill="none"/>
<path d="M142.30 907.40V903.50M139.30 903.50H145.30" stroke="#222" stroke-width="1.2" fill="none"/>
<path d="M173.45 885.40V879.50M170.45 879.50H176.45" stroke="#222" stroke-width="1.2" fill="none"/>
<path d="M230.15 933.60V932.50M227.15 932.50H233.15" stroke="#222" stroke-width="1.2" fill="none"/>
<path d="M261.00 918.30V915.50M258.00 915.50H264.00" stroke="#222" stroke-width="1.2" fill="none"/>
<text transform="matrix(1.1300 0.001 0 1 52.16 802.40)" font-family='"Liberation Sans", sans-serif' font-weight="normal" font-size="8.70" fill="#222" stroke="#222" stroke-width="0.12">b</text>
<text transform="matrix(1.1300 0.001 0 1 83.06 774.40)" font-family='"Liberation Sans", sans-serif' font-weight="normal" font-size="8.70" fill="#222" stroke="#222" stroke-width="0.12">a</text>
<text transform="matrix(1.1300 0.001 0 1 139.88 902.40)" font-family='"Liberation Sans", sans-serif' font-weight="normal" font-size="8.70" fill="#222" stroke="#222" stroke-width="0.12">d</text>
<text transform="matrix(1.1300 0.001 0 1 171.11 878.40)" font-family='"Liberation Sans", sans-serif' font-weight="normal" font-size="8.70" fill="#222" stroke="#222" stroke-width="0.12">c</text>
<text transform="matrix(1.1300 0.001 0 1 228.91 931.40)" font-family='"Liberation Sans", sans-serif' font-weight="normal" font-size="8.70" fill="#222" stroke="#222" stroke-width="0.12">f</text>
<text transform="matrix(1.1300 0.001 0 1 258.48 914.40)" font-family='"Liberation Sans", sans-serif' font-weight="normal" font-size="8.70" fill="#222" stroke="#222" stroke-width="0.12">e</text>
<rect x="34.40" y="757.40" width="247.05" height="215.90" fill="none" stroke="#8c8c8c" stroke-width="1.3"/>
<path d="M31.80 973.30H34.40" stroke="#555" stroke-width="1"/>
<text transform="matrix(1.1000 0.001 0 1 25.43 976.61)" font-family='"Liberation Serif", serif' font-weight="normal" font-size="9.20" fill="#2a2a2a" stroke="#2a2a2a" stroke-width="0.15">0</text>
<path d="M31.80 919.32H34.40" stroke="#555" stroke-width="1"/>
<text transform="matrix(1.1000 0.001 0 1 25.65 922.66)" font-family='"Liberation Serif", serif' font-weight="normal" font-size="9.20" fill="#2a2a2a" stroke="#2a2a2a" stroke-width="0.15">1</text>
<path d="M31.80 865.35H34.40" stroke="#555" stroke-width="1"/>
<text transform="matrix(1.1000 0.001 0 1 25.60 868.70)" font-family='"Liberation Serif", serif' font-weight="normal" font-size="9.20" fill="#2a2a2a" stroke="#2a2a2a" stroke-width="0.15">2</text>
<path d="M31.80 811.38H34.40" stroke="#555" stroke-width="1"/>
<text transform="matrix(1.1000 0.001 0 1 25.44 814.68)" font-family='"Liberation Serif", serif' font-weight="normal" font-size="9.20" fill="#2a2a2a" stroke="#2a2a2a" stroke-width="0.15">3</text>
<path d="M31.80 757.40H34.40" stroke="#555" stroke-width="1"/>
<text transform="matrix(1.1000 0.001 0 1 25.20 760.73)" font-family='"Liberation Serif", serif' font-weight="normal" font-size="9.20" fill="#2a2a2a" stroke="#2a2a2a" stroke-width="0.15">4</text>
<text transform="matrix(1.1977 0.001 0 0.9503 37.05 766.74)" font-family='"Liberation Sans", sans-serif' font-weight="bold" font-size="10" fill="#111">(g)</text>
<rect x="226.85" y="760.20" width="10.40" height="4.90" fill="#e9e4c8" stroke="#555" stroke-width="0.9"/>
<rect x="226.85" y="770.30" width="10.40" height="5.10" fill="#efb37b" stroke="#555" stroke-width="0.9"/>
<text transform="matrix(0.9816 0.001 0 0.8484 244.59 764.97)" font-family='"Liberation Serif", serif' font-weight="normal" font-size="10" fill="#1a1a1a" stroke="#1a1a1a" stroke-width="0.12">- GABA</text>
<text transform="matrix(0.9804 0.001 0 0.8484 244.16 775.32)" font-family='"Liberation Serif", serif' font-weight="normal" font-size="10" fill="#1a1a1a" stroke="#1a1a1a" stroke-width="0.12">+ GABA</text>
<text transform="matrix(1.1700 0.001 0 1 46.52 988.90)" font-family='"Liberation Serif", serif' font-weight="bold" font-size="10.20" fill="#000">0 mM SS</text>
<text transform="matrix(1.1700 0.001 0 1 132.43 988.90)" font-family='"Liberation Serif", serif' font-weight="bold" font-size="10.20" fill="#000">40 mM SS</text>
<text transform="matrix(1.1700 0.001 0 1 219.12 988.90)" font-family='"Liberation Serif", serif' font-weight="bold" font-size="10.20" fill="#000">80 mM SS</text>
<text transform="translate(19.13 898.95) rotate(-90) scale(1.0561 1.0900)" font-family='"Liberation Serif", serif' font-weight="bold" font-size="10.00" fill="#000">AsA/DHA ratio</text>
<rect x="411.15" y="820.30" width="25.20" height="153.10" fill="#e9e4c8" stroke="#6a6a6a" stroke-width="1"/>
<rect x="442.15" y="809.30" width="25.20" height="164.10" fill="#efb37b" stroke="#6a6a6a" stroke-width="1"/>
<rect x="498.65" y="893.10" width="25.20" height="80.30" fill="#e9e4c8" stroke="#6a6a6a" stroke-width="1"/>
<rect x="529.80" y="865.90" width="25.20" height="107.50" fill="#efb37b" stroke="#6a6a6a" stroke-width="1"/>
<rect x="586.50" y="911.30" width="25.20" height="62.10" fill="#e9e4c8" stroke="#6a6a6a" stroke-width="1"/>
<rect x="617.35" y="895.30" width="25.20" height="78.10" fill="#efb37b" stroke="#6a6a6a" stroke-width="1"/>
<path d="M423.75 820.30V813.50M420.75 813.50H426.75" stroke="#222" stroke-width="1.2" fill="none"/>
<path d="M454.75 809.30V799.50M451.75 799.50H457.75" stroke="#222" stroke-width="1.2" fill="none"/>
<path d="M511.25 893.10V888.50M508.25 888.50H514.25" stroke="#222" stroke-width="1.2" fill="none"/>
<path d="M542.40 865.90V862.50M539.40 862.50H545.40" stroke="#222" stroke-width="1.2" fill="none"/>
<path d="M599.10 911.30V908.50M596.10 908.50H602.10" stroke="#222" stroke-width="1.2" fill="none"/>
<path d="M629.95 895.30V892.50M626.95 892.50H632.95" stroke="#222" stroke-width="1.2" fill="none"/>
<text transform="matrix(1.1300 0.001 0 1 421.01 812.40)" font-family='"Liberation Sans", sans-serif' font-weight="normal" font-size="8.70" fill="#222" stroke="#222" stroke-width="0.12">a</text>
<text transform="matrix(1.1300 0.001 0 1 452.01 798.40)" font-family='"Liberation Sans", sans-serif' font-weight="normal" font-size="8.70" fill="#222" stroke="#222" stroke-width="0.12">a</text>
<text transform="matrix(1.1300 0.001 0 1 508.91 887.40)" font-family='"Liberation Sans", sans-serif' font-weight="normal" font-size="8.70" fill="#222" stroke="#222" stroke-width="0.12">c</text>
<text transform="matrix(1.1300 0.001 0 1 539.76 861.40)" font-family='"Liberation Sans", sans-serif' font-weight="normal" font-size="8.70" fill="#222" stroke="#222" stroke-width="0.12">b</text>
<text transform="matrix(1.1300 0.001 0 1 596.68 907.40)" font-family='"Liberation Sans", sans-serif' font-weight="normal" font-size="8.70" fill="#222" stroke="#222" stroke-width="0.12">d</text>
<text transform="matrix(1.1300 0.001 0 1 625.47 891.40)" font-family='"Liberation Sans", sans-serif' font-weight="normal" font-size="8.70" fill="#222" stroke="#222" stroke-width="0.12">cd</text>
<rect x="403.40" y="757.40" width="247.05" height="216.00" fill="none" stroke="#8c8c8c" stroke-width="1.3"/>
<path d="M400.80 973.40H403.40" stroke="#555" stroke-width="1"/>
<text transform="matrix(1.1000 0.001 0 1 394.43 976.71)" font-family='"Liberation Serif", serif' font-weight="normal" font-size="9.20" fill="#2a2a2a" stroke="#2a2a2a" stroke-width="0.15">0</text>
<path d="M400.80 919.40H403.40" stroke="#555" stroke-width="1"/>
<text transform="matrix(1.1000 0.001 0 1 394.65 922.74)" font-family='"Liberation Serif", serif' font-weight="normal" font-size="9.20" fill="#2a2a2a" stroke="#2a2a2a" stroke-width="0.15">1</text>
<path d="M400.80 865.40H403.40" stroke="#555" stroke-width="1"/>
<text transform="matrix(1.1000 0.001 0 1 394.60 868.75)" font-family='"Liberation Serif", serif' font-weight="normal" font-size="9.20" fill="#2a2a2a" stroke="#2a2a2a" stroke-width="0.15">2</text>
<path d="M400.80 811.40H403.40" stroke="#555" stroke-width="1"/>
<text transform="matrix(1.1000 0.001 0 1 394.44 814.70)" font-family='"Liberation Serif", serif' font-weight="normal" font-size="9.20" fill="#2a2a2a" stroke="#2a2a2a" stroke-width="0.15">3</text>
<path d="M400.80 757.40H403.40" stroke="#555" stroke-width="1"/>
<text transform="matrix(1.1000 0.001 0 1 394.20 760.73)" font-family='"Liberation Serif", serif' font-weight="normal" font-size="9.20" fill="#2a2a2a" stroke="#2a2a2a" stroke-width="0.15">4</text>
<text transform="matrix(1.2402 0.001 0 0.9763 405.53 766.92)" font-family='"Liberation Sans", sans-serif' font-weight="bold" font-size="10" fill="#111">(h)</text>
<rect x="595.85" y="760.20" width="10.40" height="4.90" fill="#e9e4c8" stroke="#555" stroke-width="0.9"/>
<rect x="595.85" y="770.30" width="10.40" height="5.10" fill="#efb37b" stroke="#555" stroke-width="0.9"/>
<text transform="matrix(0.9816 0.001 0 0.8484 613.59 764.97)" font-family='"Liberation Serif", serif' font-weight="normal" font-size="10" fill="#1a1a1a" stroke="#1a1a1a" stroke-width="0.12">- GABA</text>
<text transform="matrix(0.9804 0.001 0 0.8484 613.16 775.32)" font-family='"Liberation Serif", serif' font-weight="normal" font-size="10" fill="#1a1a1a" stroke="#1a1a1a" stroke-width="0.12">+ GABA</text>
<text transform="matrix(1.1700 0.001 0 1 415.47 989.00)" font-family='"Liberation Serif", serif' font-weight="bold" font-size="10.20" fill="#000">0 mM SS</text>
<text transform="matrix(1.1700 0.001 0 1 501.38 989.00)" font-family='"Liberation Serif", serif' font-weight="bold" font-size="10.20" fill="#000">40 mM SS</text>
<text transform="matrix(1.1700 0.001 0 1 588.07 989.00)" font-family='"Liberation Serif", serif' font-weight="bold" font-size="10.20" fill="#000">80 mM SS</text>
<text transform="translate(388.18 903.67) rotate(-90) scale(1.0707 1.0900)" font-family='"Liberation Serif", serif' font-weight="bold" font-size="10.00" fill="#000">GSH/GSSG ratio</text>
</g>
</svg>
</body></html>
